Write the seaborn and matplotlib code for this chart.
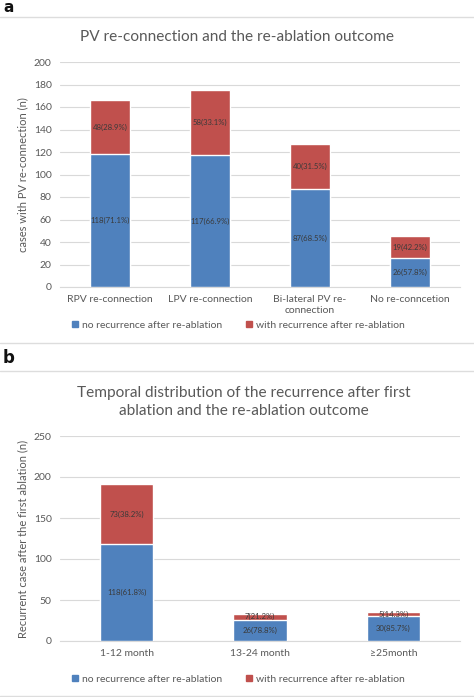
import matplotlib
matplotlib.use("Agg")
import matplotlib.pyplot as plt
import seaborn as sns
import pandas as pd
from matplotlib.lines import Line2D
from matplotlib.patches import Patch

# ---- data ----
cats_a = ["RPV re-connection", "LPV re-connection", "Bi-lateral PV re-\nconnection", "No re-conncetion"]
no_rec_a = [118, 117, 87, 26]
with_rec_a = [48, 58, 40, 19]
no_pct_a = ["71.1%", "66.9%", "68.5%", "57.8%"]
with_pct_a = ["28.9%", "33.1%", "31.5%", "42.2%"]

cats_b = ["1-12 month", "13-24 month", "\u226525month"]
no_rec_b = [118, 26, 30]
with_rec_b = [73, 7, 5]
no_pct_b = ["61.8%", "78.8%", "85.7%"]
with_pct_b = ["38.2%", "21.2%", "14.3%"]

title_a = "PV re-connection and the re-ablation outcome"
title_b = "Temporal distribution of the recurrence after first\nablation and the re-ablation outcome"
ylabel_a = "cases with PV re-connection (n)"
ylabel_b = "Recurrent case after the first ablation (n)"
legend_labels = ["no recurrence after re-ablation", "with recurrence after re-ablation"]

BLUE = "#4F81BD"
RED = "#C0504D"
GREY = "#595959"
FONT = ["Lato", "DejaVu Sans"]

sns.set_theme(style="white")
plt.rcParams["font.family"] = FONT

W, H = 474, 697
fig = plt.figure(figsize=(W / 100, H / 100), dpi=100)


def draw(ax, cats, no_rec, with_rec, no_pct, with_pct, ymax, step, title, ylabel, title_x, title_y, leg_y):
    df = pd.DataFrame({"cat": cats, "no": no_rec, "with": with_rec})
    df["total"] = df["no"] + df["with"]
    sns.barplot(data=df, x="cat", y="total", color=RED, width=0.4, saturation=1, ax=ax, zorder=2)
    sns.barplot(data=df, x="cat", y="no", color=BLUE, width=0.4, saturation=1, ax=ax, zorder=3)
    for i, (n, w, pn, pw) in enumerate(zip(no_rec, with_rec, no_pct, with_pct)):
        ax.text(i, n / 2, f"{n}({pn})", ha="center", va="center", fontsize=5.6, color="#3A3A3A", zorder=5)
        ax.text(i, n + w / 2, f"{w}({pw})", ha="center", va="center", fontsize=5.6, color="#3A3A3A", zorder=5)
    ax.set_ylim(0, ymax)
    ax.set_yticks(range(0, ymax + 1, step))
    ax.set_xlim(-0.5, len(cats) - 0.5)
    ax.yaxis.grid(True, color="#D9D9D9", linewidth=0.8, zorder=0)
    ax.set_axisbelow(True)
    for s in ["top", "right", "left"]:
        ax.spines[s].set_visible(False)
    ax.spines["bottom"].set_color("#D9D9D9")
    ax.spines["bottom"].set_linewidth(0.8)
    ax.tick_params(axis="both", length=0, labelsize=7.5, colors=GREY, pad=6)
    ax.set_xlabel("")
    ax.set_ylabel(ylabel, fontsize=8, color=GREY, labelpad=4)
    fig.text(title_x, title_y, title, ha="center", va="center", fontsize=11.1, color=GREY,
             linespacing=1.3)
    handles = [Patch(facecolor=BLUE, edgecolor=BLUE), Patch(facecolor=RED, edgecolor=RED)]
    fig.legend(handles, legend_labels, loc="center", bbox_to_anchor=(238.5 / W, leg_y), ncol=2,
               frameon=False, fontsize=7.5, labelcolor=GREY, handlelength=0.6, handleheight=0.6,
               handletextpad=0.35, columnspacing=2.3)


ax_a = fig.add_axes([60 / W, 1 - 287 / H, 400 / W, 225 / H])
draw(ax_a, cats_a, no_rec_a, with_rec_a, no_pct_a, with_pct_a, 200, 20, title_a, ylabel_a,
     237 / W, 1 - 37 / H, 1 - 325 / H)

ax_b = fig.add_axes([60 / W, 1 - 641 / H, 400 / W, 205 / H])
draw(ax_b, cats_b, no_rec_b, with_rec_b, no_pct_b, with_pct_b, 250, 50, title_b, ylabel_b,
     244 / W, 1 - 402 / H, 1 - 679 / H)

# panel letters and separators
fig.text(3 / W, 1 - 7 / H, "a", fontsize=11, fontweight="bold", family="DejaVu Sans", va="center", color="#111111")
fig.text(3 / W, 1 - 358 / H, "b", fontsize=12, fontweight="bold", family="DejaVu Sans", va="center", color="#111111")
for yy in [16.5, 342.5, 370.5, 696]:
    fig.add_artist(Line2D([0, 1], [1 - yy / H, 1 - yy / H], color="#DDDDDD", linewidth=1.0))

fig.savefig("out.png", dpi=100)
